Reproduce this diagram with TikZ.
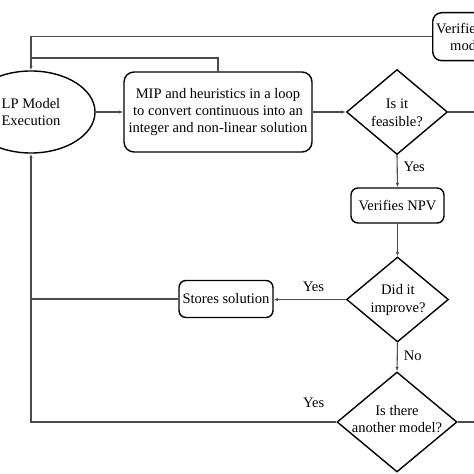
\documentclass[tikz,border=0pt]{standalone}
\usepackage{fontspec}
\setmainfont{Liberation Serif}
\usetikzlibrary{shapes.geometric,arrows.meta}
\begin{document}
\begin{tikzpicture}[x=1bp,y=-1bp,
  every node/.style={font=\fontsize{14.6}{17.5}\selectfont, inner sep=0pt},
  rbox/.style={draw=black, line width=1.4bp, rounded corners=7bp, align=center},
  diam/.style={draw=black, line width=1.4bp, diamond, inner sep=0pt},
  oval/.style={draw=black, line width=1.4bp, ellipse, align=center},
  conn/.style={draw=black!70, line width=1.1bp},
  arr/.style={conn, -{Latex[length=4.5bp,width=3.5bp]}},
  lbl/.style={font=\fontsize{14.6}{17.5}\selectfont}
]
\useasboundingbox (0,0) rectangle (474,474);
\clip (0,0) rectangle (474,474);
\fill[white] (0,0) rectangle (474,474);

% nodes
\node[oval, minimum width=128bp, minimum height=82bp] (lp) at (31,112) {LP Model\\Execution};
\node[rbox, rounded corners=10bp, minimum width=188bp, minimum height=80bp] (mip) at (218,112)
  {MIP and heuristics in a loop\\to convert continuous into an\\integer and non-linear solution};
\node[diam, minimum width=101bp, minimum height=85bp] (feas) at (397,112) {};
\node[align=center] (feastxt) at (397,113) {Is it\\feasible?};
\node[rbox, minimum width=93bp, minimum height=35bp] (npv) at (397.5,205.5) {Verifies NPV};
\node[diam, minimum width=102bp, minimum height=85bp] (impr) at (397.5,299.5) {};
\node[align=center] (imprtxt) at (398,300) {Did it\\improve?};
\node[rbox, minimum width=94bp, minimum height=37bp] (store) at (226,299) {Stores solution};
\node[diam, minimum width=120bp, minimum height=100bp] (more) at (397,422) {};
\node[align=center] (moretxt) at (397,419) {Is there\\another model?};
\node[rbox, rounded corners=9bp, minimum width=80bp, minimum height=48bp, anchor=north west] (ver) at (432,12) {};
\node[anchor=west] (vert1) at (436,28) {Verifies};
\node[anchor=west] (vert2) at (450,46) {model};

% free-end coordinates
\coordinate (j1) at (31,58);
\coordinate (j2) at (31,299);
\coordinate (e1) at (480,112);
\coordinate (e2) at (480,422);

% connectors
\draw[arr] (ver.west) -| (lp.north);
\draw[conn] (mip.north) |- (j1);
\draw[arr] (lp.east) -- (mip.west);
\draw[arr] (mip.east) -- (feas.west);
\draw[conn] (feas.east) -- (e1);
\draw[arr] (feas.south) -- node[lbl, right=6bp, pos=0.35] (y1) {Yes} (npv.north);
\draw[arr] (npv.south) -- (impr.north);
\draw[arr] (impr.west) -- node[lbl, above=7bp, pos=0.45] (y2) {Yes} (store.east |- impr.west);
\draw[conn] (store.west) -- (j2);
\draw[arr] (impr.south) -- node[lbl, right=6bp, pos=0.45] (n1) {No} (more.north);
\draw[arr] (more.west) -| node[lbl, pos=0.037, above=14bp] (y3) {Yes} (lp.south);
\draw[conn] (more.east) -- (e2);
\end{tikzpicture}
\end{document}
